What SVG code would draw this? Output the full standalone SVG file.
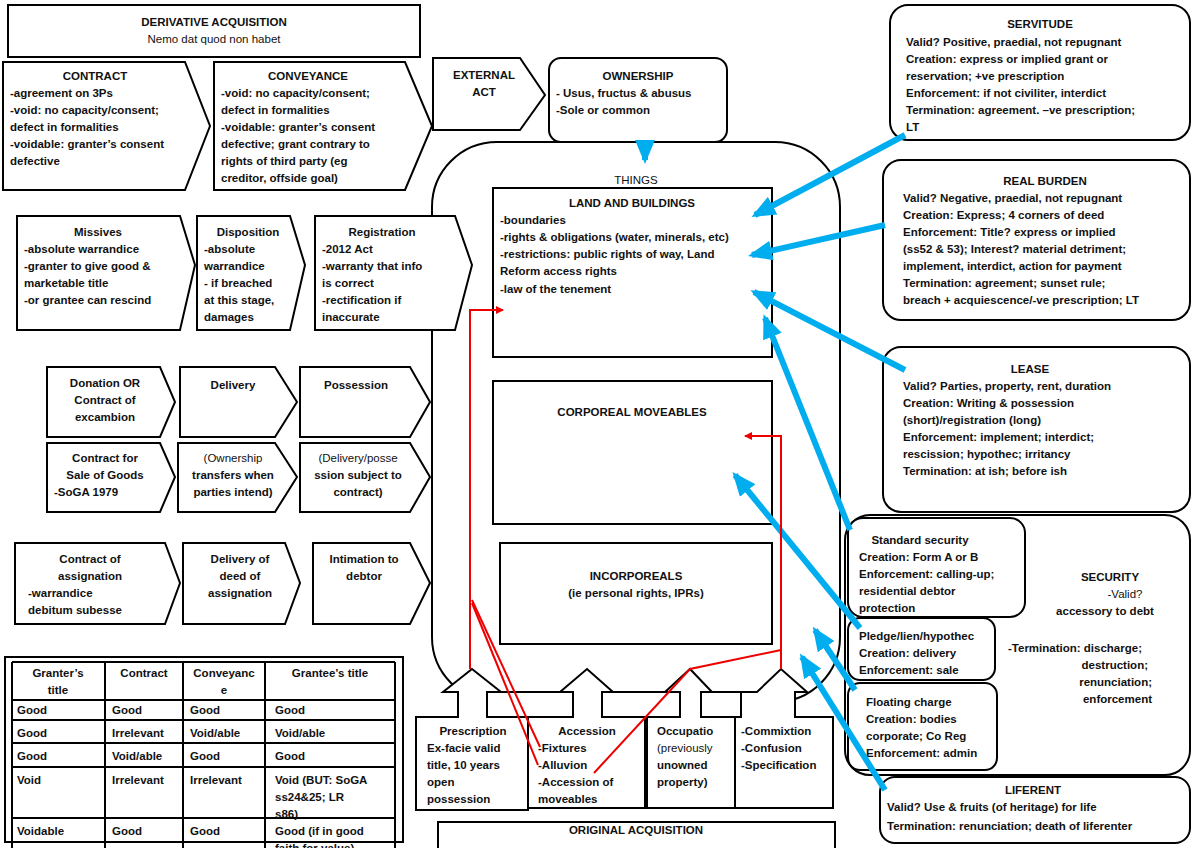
<svg xmlns="http://www.w3.org/2000/svg" width="1200" height="848" viewBox="0 0 1200 848">
<defs>
<style>
text{font-family:"Liberation Sans",Arial,sans-serif;font-size:11.5px;font-weight:bold;fill:#111}
.c{text-anchor:middle}
.s{fill:#fff;stroke:#000;stroke-width:2}
.r{stroke:#e00;stroke-width:2;fill:none}
.b{stroke:#00aeef;stroke-width:6;fill:none}
.t line{stroke:#000;stroke-width:2}
</style>
<marker id="ra" markerWidth="8" markerHeight="8" refX="7" refY="4" orient="auto" markerUnits="userSpaceOnUse"><path d="M0,0L8,4L0,8z" fill="#e00"/></marker>
<marker id="ba" markerWidth="24" markerHeight="20" refX="20" refY="10" orient="auto" markerUnits="userSpaceOnUse"><path d="M0,0L24,10L0,20z" fill="#00aeef"/></marker>
</defs>
<rect x="0" y="0" width="1200" height="848" fill="#fff"/>
<g id="title"><rect class="s" x="8" y="5" width="412" height="52"/><text class="c" x="214" y="26">DERIVATIVE ACQUISITION</text><text class="c" x="214" y="43" style="font-weight:normal">Nemo dat quod non habet</text></g>
<g id="contract"><path class="s" d="M3,62H185L210,126L185,190H3Z"/><text class="c" x="95" y="80">CONTRACT</text><text x="10" y="97">-agreement on 3Ps</text><text x="10" y="114">-void: no capacity/consent;</text><text x="10" y="131">defect in formalities</text><text x="10" y="148">-voidable: granter’s consent</text><text x="10" y="165">defective</text></g>
<g id="conveyance"><path class="s" d="M214,62H405L432,126L405,190H214Z"/><text class="c" x="308" y="80">CONVEYANCE</text><text x="221" y="97">-void: no capacity/consent;</text><text x="221" y="114">defect in formalities</text><text x="221" y="131">-voidable: granter’s consent</text><text x="221" y="148">defective; grant contrary to</text><text x="221" y="165">rights of third party (eg</text><text x="221" y="182">creditor, offside goal)</text></g>
<g id="external"><path class="s" d="M433,58H520L545,95L520,130H433Z"/><text class="c" x="484" y="79">EXTERNAL</text><text class="c" x="484" y="96">ACT</text></g>
<g id="ownership"><rect class="s" x="549" y="58" width="178" height="84" rx="12"/><text class="c" x="638" y="80">OWNERSHIP</text><text x="556" y="97">- Usus, fructus &amp; abusus</text><text x="556" y="114">-Sole or common</text></g>
<g id="things"><rect class="s" x="432" y="142" width="408" height="560" rx="65"/><text class="c" x="636" y="184" style="font-weight:normal">THINGS</text></g>
<g id="land"><rect class="s" x="493" y="188" width="279" height="169"/><text class="c" x="632" y="207">LAND AND BUILDINGS</text><text x="500" y="224">-boundaries</text><text x="500" y="241">-rights &amp; obligations (water, minerals, etc)</text><text x="500" y="258">-restrictions: public rights of way, Land</text><text x="500" y="275">Reform access rights</text><text x="500" y="293">-law of the tenement</text></g>
<g id="corporeal"><rect class="s" x="493" y="381" width="279" height="143"/><text class="c" x="632" y="416">CORPOREAL MOVEABLES</text></g>
<g id="incorporeal"><rect class="s" x="500" y="543" width="272" height="101"/><text class="c" x="636" y="580">INCORPOREALS</text><text class="c" x="636" y="597">(ie personal rights, IPRs)</text></g>
<g id="missives"><path class="s" d="M17,216H180L195,265L180,330H17Z"/><text class="c" x="98" y="236">Missives</text><text x="24" y="253">-absolute warrandice</text><text x="24" y="270">-granter to give good &amp;</text><text x="24" y="287">marketable title</text><text x="24" y="304">-or grantee can rescind</text></g>
<g id="disposition"><path class="s" d="M197,216H290L305,265L290,330H197Z"/><text class="c" x="248" y="236">Disposition</text><text x="204" y="253">-absolute</text><text x="204" y="270">warrandice</text><text x="204" y="287">- if breached</text><text x="204" y="304">at this stage,</text><text x="204" y="321">damages</text></g>
<g id="registration"><path class="s" d="M315,216H455L472,265L455,330H315Z"/><text class="c" x="382" y="236">Registration</text><text x="322" y="253">-2012 Act</text><text x="322" y="270">-warranty that info</text><text x="322" y="287">is correct</text><text x="322" y="304">-rectification if</text><text x="322" y="321">inaccurate</text></g>
<g id="donation"><path class="s" d="M47,367H160L175,402L160,437H47Z"/><text class="c" x="105" y="387">Donation OR</text><text class="c" x="105" y="404">Contract of</text><text class="c" x="105" y="421">excambion</text></g>
<g id="delivery"><path class="s" d="M180,367H275L297,402L275,437H180Z"/><text class="c" x="233" y="389">Delivery</text></g>
<g id="possession"><path class="s" d="M300,367H410L430,402L410,437H300Z"/><text class="c" x="356" y="389">Possession</text></g>
<g id="sog"><path class="s" d="M47,443H160L175,477L160,512H47Z"/><text class="c" x="105" y="462">Contract for</text><text class="c" x="105" y="479">Sale of Goods</text><text x="54" y="496">-SoGA 1979</text></g>
<g id="ownt"><path class="s" d="M178,443H275L297,477L275,512H178Z"/><text class="c" x="233" y="462" style="font-weight:normal">(Ownership</text><text class="c" x="233" y="479">transfers when</text><text class="c" x="233" y="496">parties intend)</text></g>
<g id="delpos"><path class="s" d="M300,443H410L430,477L410,512H300Z"/><text class="c" x="358" y="462" style="font-weight:normal">(Delivery/posse</text><text class="c" x="358" y="479">ssion subject to</text><text class="c" x="358" y="496">contract)</text></g>
<g id="assig"><path class="s" d="M15,543H165L180,583L165,624H15Z"/><text class="c" x="90" y="563">Contract of</text><text class="c" x="90" y="580">assignation</text><text x="28" y="597">-warrandice</text><text x="28" y="614">debitum subesse</text></g>
<g id="deed"><path class="s" d="M183,543H285L300,583L285,624H183Z"/><text class="c" x="240" y="563">Delivery of</text><text class="c" x="240" y="580">deed of</text><text class="c" x="240" y="597">assignation</text></g>
<g id="intim"><path class="s" d="M313,543H410L430,583L410,624H313Z"/><text class="c" x="364" y="563">Intimation to</text><text class="c" x="364" y="580">debtor</text></g>
<g id="table" class="t"><rect class="s" x="5" y="657" width="398" height="185"/>
<g><line x1="12" y1="662" x2="395" y2="662"/><line x1="12" y1="700" x2="395" y2="700"/><line x1="12" y1="720" x2="395" y2="720"/><line x1="12" y1="743" x2="395" y2="743"/><line x1="12" y1="767" x2="395" y2="767"/><line x1="12" y1="818" x2="395" y2="818"/><line x1="12" y1="662" x2="12" y2="848"/><line x1="105" y1="662" x2="105" y2="848"/><line x1="183" y1="662" x2="183" y2="848"/><line x1="265" y1="662" x2="265" y2="848"/><line x1="395" y1="662" x2="395" y2="848"/></g>
<text class="c" x="58" y="677">Granter’s</text><text class="c" x="58" y="694">title</text><text class="c" x="144" y="677">Contract</text><text class="c" x="224" y="677">Conveyanc</text><text class="c" x="224" y="694">e</text><text class="c" x="330" y="677">Grantee’s title</text>
<text x="17" y="714">Good</text><text x="112" y="714">Good</text><text x="190" y="714">Good</text><text x="275" y="714">Good</text>
<text x="17" y="737">Good</text><text x="112" y="737">Irrelevant</text><text x="190" y="737">Void/able</text><text x="275" y="737">Void/able</text>
<text x="17" y="760">Good</text><text x="112" y="760">Void/able</text><text x="190" y="760">Good</text><text x="275" y="760">Good</text>
<text x="17" y="784">Void</text><text x="112" y="784">Irrelevant</text><text x="190" y="784">Irrelevant</text><text x="275" y="784">Void (BUT: SoGA</text><text x="275" y="801">ss24&amp;25;  LR</text><text x="275" y="818">s86)</text>
<text x="17" y="835">Voidable</text><text x="112" y="835">Good</text><text x="190" y="835">Good</text><text x="275" y="835">Good (if in good</text><text x="275" y="852">faith for value)</text></g>
<g id="bands"><rect class="s" x="487" y="692" width="86" height="25"/><rect class="s" x="602" y="692" width="78" height="25"/><rect class="s" x="701" y="692" width="40" height="25"/></g>
<g id="prescription"><path class="s" d="M416,717H458V692H443L472,669L501,692H487V717H528V810H416Z"/><text class="c" x="473" y="735">Prescription</text><text x="427" y="752">Ex-facie valid</text><text x="427" y="769">title, 10 years</text><text x="427" y="786">open</text><text x="427" y="803">possession</text></g>
<g id="accession"><path class="s" d="M528,717H573V692H560L587,669L613,692H602V717H645V808H528Z"/><text class="c" x="587" y="735">Accession</text><text x="538" y="752">-Fixtures</text><text x="538" y="769">-Alluvion</text><text x="538" y="786">-Accession of</text><text x="538" y="803">moveables</text></g>
<g id="occupatio"><path class="s" d="M647,717H680V692H665L690,669L712,692H701V717H735V808H647Z"/><text x="657" y="735">Occupatio</text><text x="657" y="752" style="font-weight:normal">(previously</text><text x="657" y="769">unowned</text><text x="657" y="786">property)</text></g>
<g id="commix"><path class="s" d="M735,717H741V692H757L781,669L807,692H795V717H833V808H735Z"/><text x="741" y="735">-Commixtion</text><text x="741" y="752">-Confusion</text><text x="741" y="769">-Specification</text></g>
<g id="original"><rect class="s" x="438" y="822" width="397" height="40"/><text class="c" x="636" y="834">ORIGINAL ACQUISITION</text></g>
<g id="servitude"><rect class="s" x="890" y="5" width="300" height="135" rx="18"/><text class="c" x="1040" y="28">SERVITUDE</text><text x="906" y="46">Valid? Positive, praedial, not repugnant</text><text x="906" y="63">Creation: express or implied grant or</text><text x="906" y="80">reservation;  +ve prescription</text><text x="906" y="97">Enforcement: if not civiliter, interdict</text><text x="906" y="114">Termination: agreement. –ve prescription;</text><text x="906" y="131">LT</text></g>
<g id="realburden"><rect class="s" x="883" y="160" width="307" height="160" rx="18"/><text class="c" x="1045" y="185">REAL BURDEN</text><text x="903" y="202">Valid? Negative, praedial, not repugnant</text><text x="903" y="219">Creation: Express; 4 corners of deed</text><text x="903" y="236">Enforcement: Title? express or implied</text><text x="903" y="253">(ss52 &amp; 53);  Interest? material detriment;</text><text x="903" y="270">implement, interdict, action for payment</text><text x="903" y="287">Termination: agreement; sunset rule;</text><text x="903" y="304">breach + acquiescence/-ve prescription; LT</text></g>
<g id="lease"><rect class="s" x="883" y="347" width="307" height="165" rx="18"/><text class="c" x="1030" y="373">LEASE</text><text x="903" y="390">Valid? Parties, property, rent, duration</text><text x="903" y="407">Creation: Writing &amp; possession</text><text x="903" y="424">(short)/registration (long)</text><text x="903" y="441">Enforcement: implement; interdict;</text><text x="903" y="458">rescission; hypothec; irritancy</text><text x="903" y="475">Termination: at ish; before ish</text></g>
<g id="security"><rect class="s" x="845" y="515" width="345" height="260" rx="25"/><text class="c" x="1110" y="581">SECURITY</text><text class="c" x="1125" y="598" style="font-weight:normal">-Valid?</text><text class="c" x="1105" y="615">accessory to debt</text><text x="1008" y="652">-Termination: discharge;</text><text x="1148" y="669" text-anchor="end">destruction;</text><text x="1152" y="686" text-anchor="end">renunciation;</text><text x="1152" y="703" text-anchor="end">enforcement</text></g>
<g id="standard"><rect class="s" x="848" y="518" width="177" height="99" rx="15"/><text class="c" x="920" y="544">Standard security</text><text x="859" y="561">Creation: Form A or B</text><text x="859" y="578">Enforcement: calling-up;</text><text x="859" y="595">residential debtor</text><text x="859" y="612">protection</text></g>
<g id="pledge"><rect class="s" x="848" y="618" width="147" height="62" rx="12"/><text x="859" y="640">Pledge/lien/hypothec</text><text x="859" y="657">Creation: delivery</text><text x="859" y="674">Enforcement: sale</text></g>
<g id="floating"><rect class="s" x="848" y="683" width="149" height="87" rx="12"/><text x="866" y="706">Floating charge</text><text x="866" y="723">Creation: bodies</text><text x="866" y="740">corporate; Co Reg</text><text x="866" y="757">Enforcement: admin</text></g>
<g id="liferent"><rect class="s" x="880" y="777" width="310" height="66" rx="15"/><text class="c" x="1033" y="794">LIFERENT</text><text x="887" y="811">Valid? Use &amp; fruits (of heritage) for life</text><text x="887" y="830">Termination: renunciation; death of liferenter</text></g>
<g id="connectors">
<line class="b" x1="645" y1="140" x2="645" y2="160" marker-end="url(#ba)"/>
<line class="b" x1="905" y1="135" x2="755" y2="215" marker-end="url(#ba)"/>
<line class="b" x1="885" y1="225" x2="752" y2="255" marker-end="url(#ba)"/>
<line class="b" x1="905" y1="370" x2="754" y2="292" marker-end="url(#ba)"/>
<line class="b" x1="850" y1="530" x2="765" y2="318" marker-end="url(#ba)"/>
<line class="b" x1="860" y1="628" x2="735" y2="475" marker-end="url(#ba)"/>
<line class="b" x1="855" y1="690" x2="815" y2="630" marker-end="url(#ba)"/>
<line class="b" x1="885" y1="790" x2="802" y2="657" marker-end="url(#ba)"/>
<path class="r" d="M470,669V310H503" marker-end="url(#ra)"/>
<path class="r" d="M472,600L540,747"/>
<path class="r" d="M472,603L538,765"/>
<path class="r" d="M781,669V436H745" marker-end="url(#ra)"/>
<path class="r" d="M781,650L690,669L594,773"/>
</g>
</svg>
